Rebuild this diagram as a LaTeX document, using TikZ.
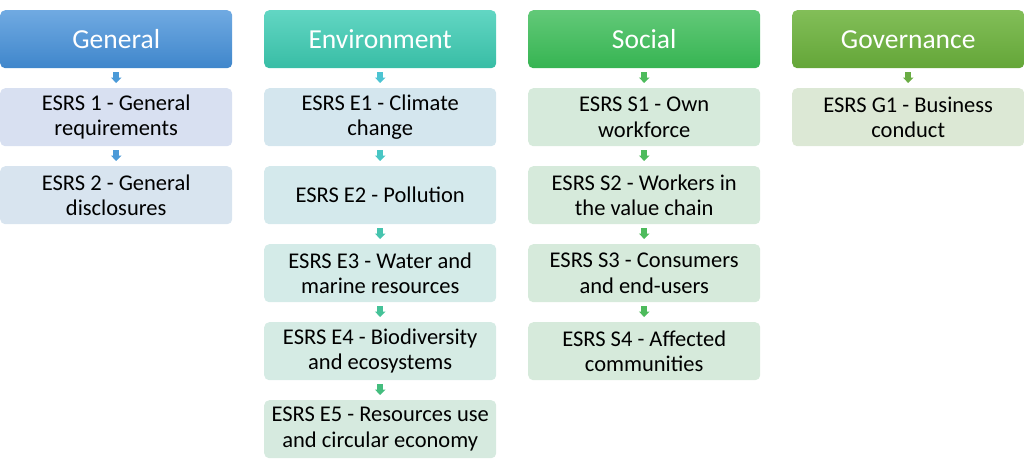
\documentclass[tikz,border=0pt]{standalone}
\usepackage{fontspec}
\setmainfont{Carlito}
\usetikzlibrary{arrows.meta}
\definecolor{genA}{HTML}{70AAE2}
\definecolor{genB}{HTML}{3F86CB}
\definecolor{envA}{HTML}{62D6C3}
\definecolor{envB}{HTML}{38BDA5}
\definecolor{socA}{HTML}{62C978}
\definecolor{socB}{HTML}{36B452}
\definecolor{govA}{HTML}{82BE58}
\definecolor{govB}{HTML}{64A638}
\definecolor{g1}{HTML}{D8E0F1}
\definecolor{g2}{HTML}{D8E4EF}
\definecolor{e1}{HTML}{D4E6EE}
\definecolor{e2}{HTML}{D4E9EC}
\definecolor{e3}{HTML}{D4EBE8}
\definecolor{e4}{HTML}{D5EBE4}
\definecolor{e5}{HTML}{D6EADF}
\definecolor{s1}{HTML}{D6EADB}
\definecolor{gv}{HTML}{DCE8D5}
\definecolor{aGen}{HTML}{4B9AD8}
\definecolor{aE1}{HTML}{4CC4D2}
\definecolor{aE2}{HTML}{48C6C4}
\definecolor{aE3}{HTML}{46C4AE}
\definecolor{aE4}{HTML}{45C298}
\definecolor{aE5}{HTML}{44BD7E}
\definecolor{aSoc}{HTML}{4DBB5C}
\definecolor{aGov}{HTML}{6AAC44}
\tikzset{
  x=1pt, y=-1pt,
  header/.style={rounded corners=5pt, minimum width=232pt, minimum height=58pt,
    inner sep=0pt, text=white, font=\fontsize{27.5}{30}\selectfont, anchor=north west},
  item/.style={rounded corners=5pt, minimum width=232pt, minimum height=58pt,
    inner sep=0pt, text=black, align=center, anchor=north west,
    font=\fontsize{22.5}{25.5}\selectfont},
  flowarrow/.style={line width=6pt, -{Triangle[width=10.5pt,length=5.5pt]}},
}
\begin{document}
\begin{tikzpicture}
\useasboundingbox (0,0) rectangle (1024,469);
% headers
\node[header, top color=genA, bottom color=genB] (gen) at (0,10) {General};
\node[header, top color=envA, bottom color=envB] (env) at (264,10) {Environment};
\node[header, top color=socA, bottom color=socB] (soc) at (528,10) {Social};
\node[header, top color=govA, bottom color=govB] (gov) at (792,10) {Governance};
% General
\node[item, fill=g1] (g1n) at (0,88) {ESRS 1 - General\\requirements};
\node[item, fill=g2] (g2n) at (0,166) {ESRS 2 - General\\disclosures};
% Environment
\node[item, fill=e1] (e1n) at (264,88) {ESRS E1 - Climate\\change};
\node[item, fill=e2] (e2n) at (264,166) {ESRS E2 - Pollution};
\node[item, fill=e3] (e3n) at (264,244) {ESRS E3 - Water and\\marine resources};
\node[item, fill=e4] (e4n) at (264,322) {ESRS E4 - Biodiversity\\and ecosystems};
\node[item, fill=e5] (e5n) at (264,400) {ESRS E5 - Resources use\\and circular economy};
% Social
\node[item, fill=s1] (s1n) at (528,88) {ESRS S1 - Own\\workforce};
\node[item, fill=s1] (s2n) at (528,166) {ESRS S2 - Workers in\\the value chain};
\node[item, fill=s1] (s3n) at (528,244) {ESRS S3 - Consumers\\and end-users};
\node[item, fill=s1] (s4n) at (528,322) {ESRS S4 - Affected\\communities};
% Governance
\node[item, fill=gv] (gvn) at (792,88) {ESRS G1 - Business\\conduct};
% arrows
\foreach \a/\b/\c in {gen/g1n/aGen, g1n/g2n/aGen,
  env/e1n/aE1, e1n/e2n/aE2, e2n/e3n/aE3, e3n/e4n/aE4, e4n/e5n/aE5,
  soc/s1n/aSoc, s1n/s2n/aSoc, s2n/s3n/aSoc, s3n/s4n/aSoc,
  gov/gvn/aGov}
  \draw[flowarrow, draw=\c, fill=\c] ([yshift=-4pt]\a.south) -- ([yshift=5pt]\b.north);
\end{tikzpicture}
\end{document}
